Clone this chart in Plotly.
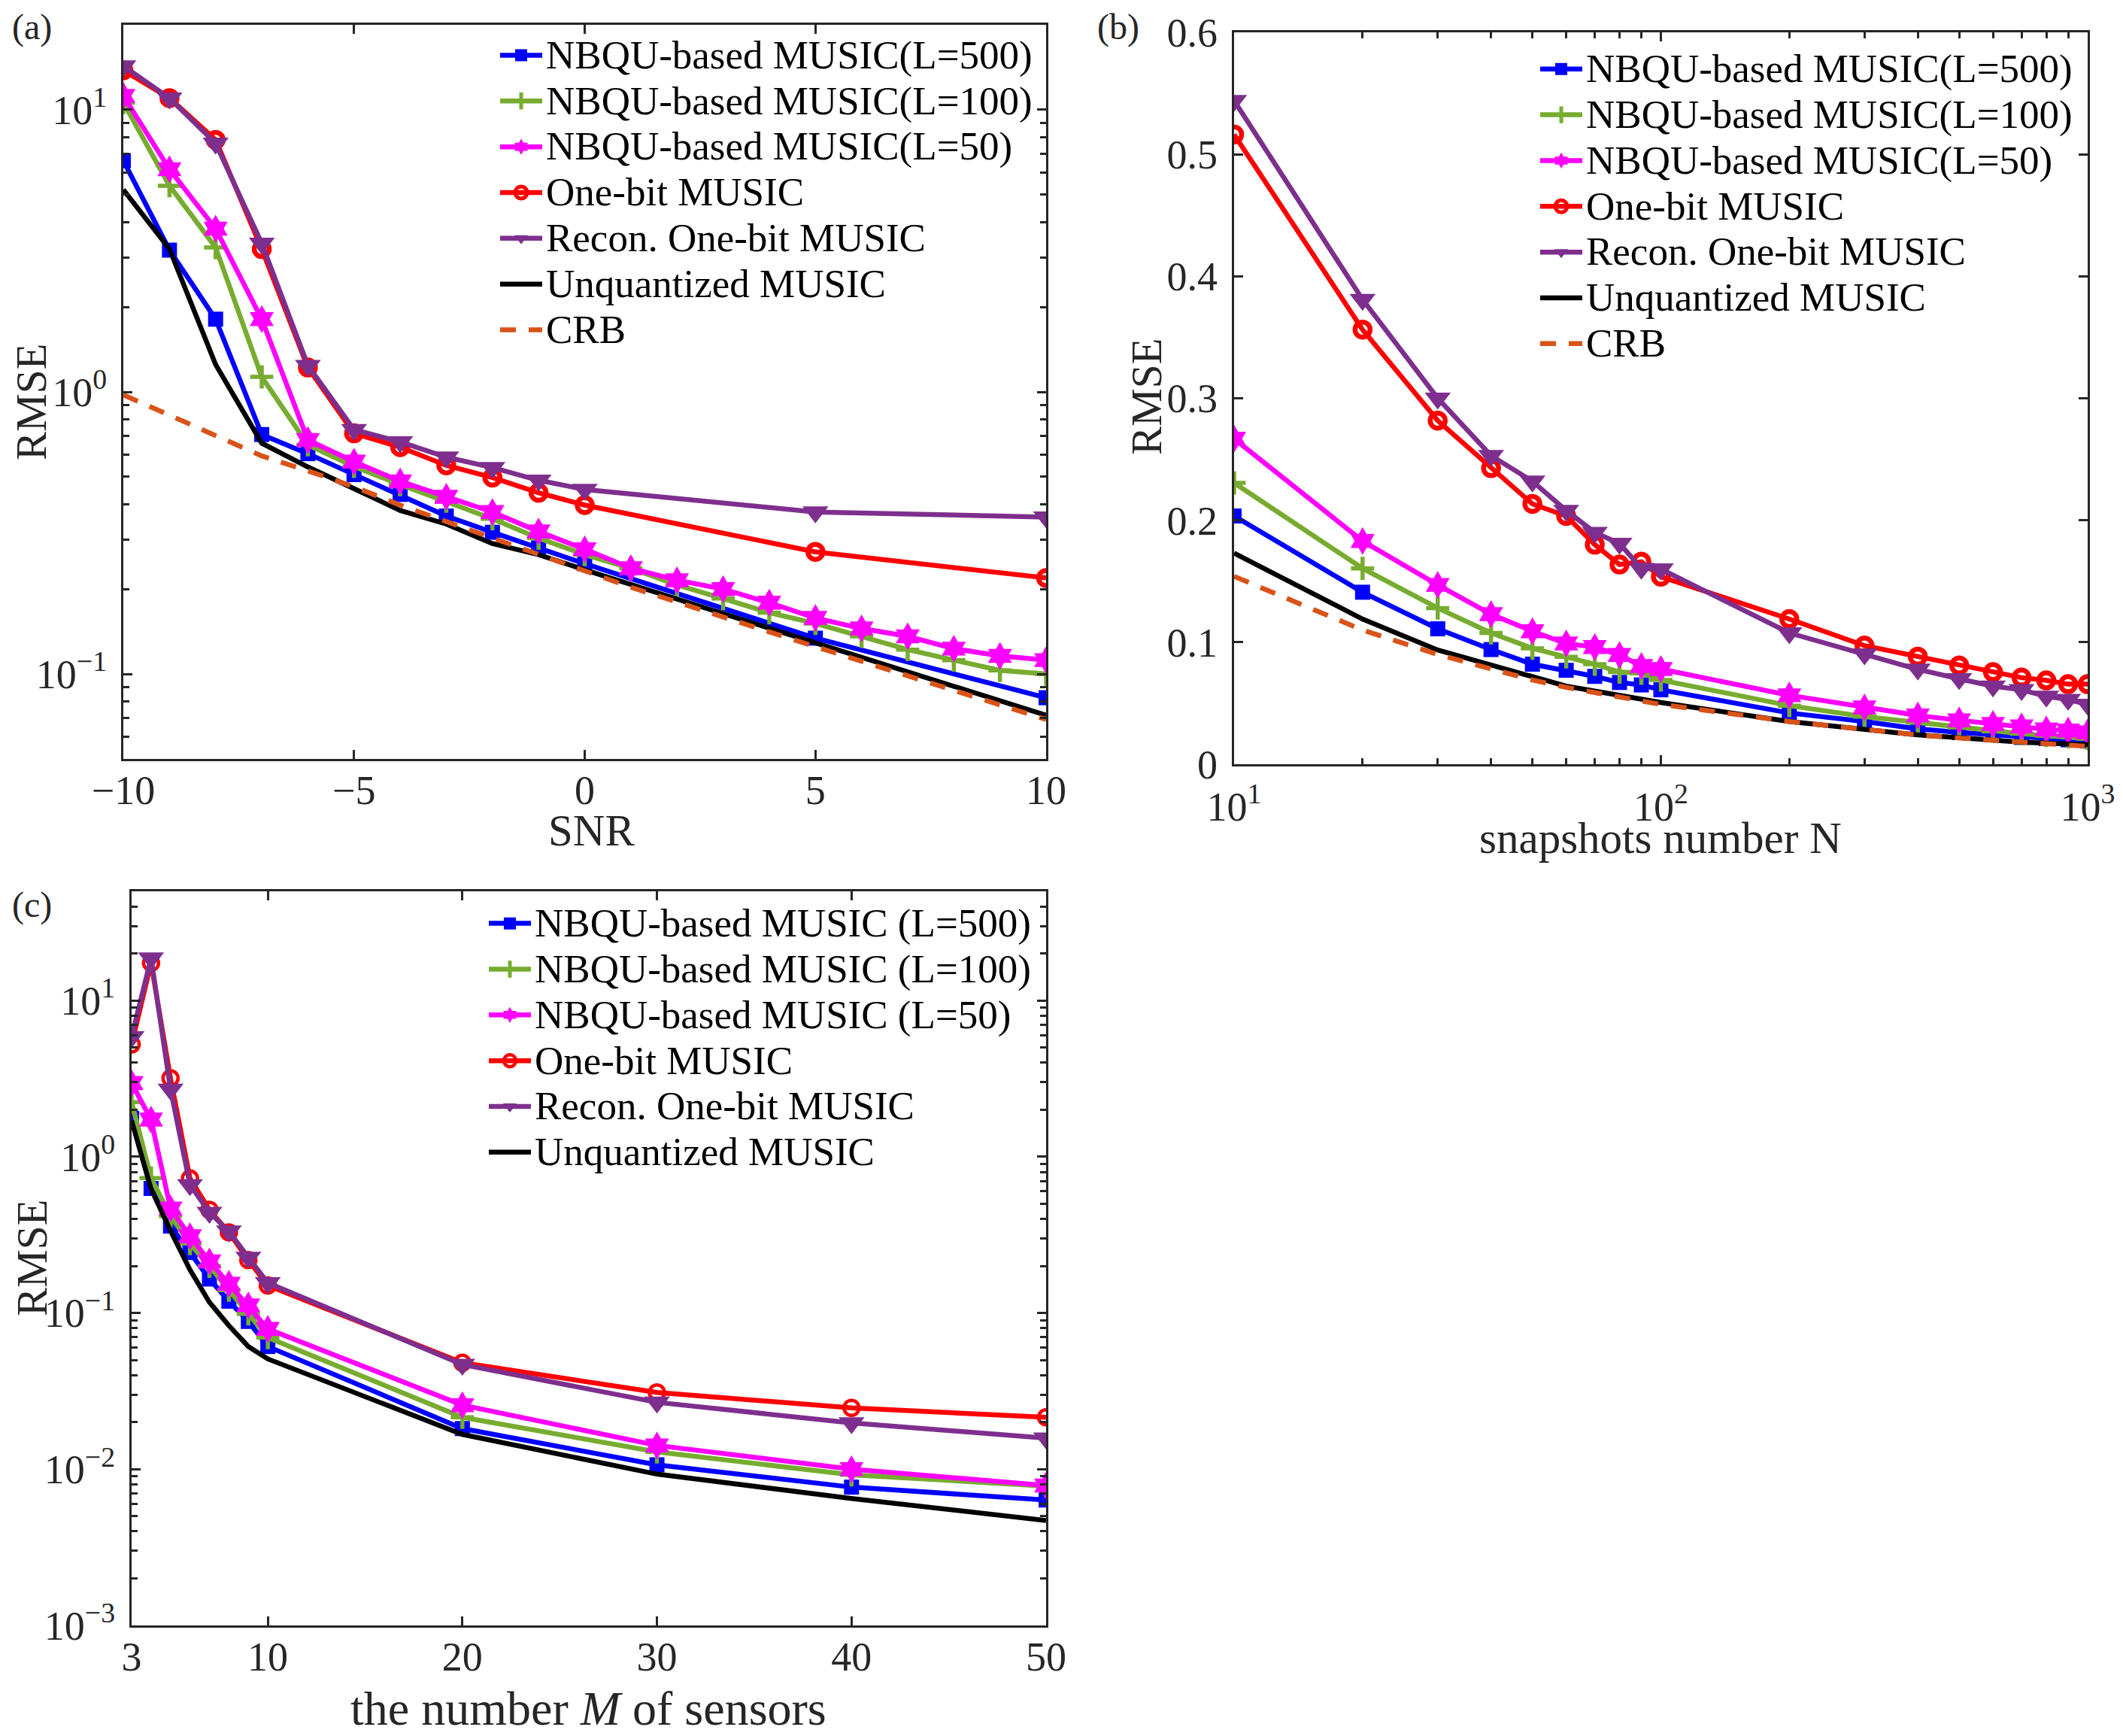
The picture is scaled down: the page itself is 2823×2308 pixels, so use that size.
import numpy as np
import plotly.graph_objects as go

W, H = 2823, 2308
FONT = "Liberation Serif, Times New Roman, serif"
AXC = "#262626"

# ---------------- data: panel (a) RMSE vs SNR ----------------
snr_coarse = [-10, -9, -8, -7, -6, -5, -4, -3, -2, -1, 0, 5, 10]
snr_fine = [-10, -9, -8, -7, -6, -5, -4, -3, -2, -1, 0, 1, 2, 3, 4, 5, 6, 7, 8, 9, 10]
a_L500 = [6.6, 3.18, 1.81, 0.706, 0.604, 0.509, 0.433, 0.363, 0.318, 0.28, 0.246, 0.134, 0.0824]
a_L100 = [10.6, 5.38, 3.25, 1.13, 0.649, 0.544, 0.469, 0.41, 0.355, 0.303, 0.265,
          0.237, 0.207, 0.185, 0.165, 0.151, 0.136, 0.122, 0.112, 0.103, 0.1]
a_L50 = [11.2, 6.15, 3.79, 1.81, 0.675, 0.566, 0.482, 0.425, 0.375, 0.32, 0.277,
         0.237, 0.215, 0.2, 0.179, 0.158, 0.145, 0.136, 0.123, 0.116, 0.112]
a_onebit = [13.8, 11.0, 7.82, 3.21, 1.22, 0.713, 0.637, 0.549, 0.497, 0.439, 0.397, 0.271, 0.219]
a_recon = [14.3, 11.0, 7.6, 3.36, 1.24, 0.735, 0.665, 0.587, 0.539, 0.486, 0.451, 0.375, 0.36]
a_unq = [5.21, 3.21, 1.25, 0.658, 0.542, 0.455, 0.38, 0.34, 0.29, 0.265, 0.234, 0.129, 0.0714]
a_crb = [0.976, 0.826, 0.697, 0.593, 0.525, 0.461, 0.397, 0.347, 0.301, 0.263, 0.231,
         0.203, 0.180, 0.160, 0.141, 0.125, 0.111, 0.098, 0.087, 0.077, 0.069]

# ---------------- data: panel (b) RMSE vs snapshots N ----------------
snap_N = [10, 20, 30, 40, 50, 60, 70, 80, 90, 100, 200, 300, 400, 500, 600, 700, 800, 900, 1000]
b_L500 = [0.2035, 0.141, 0.111, 0.094, 0.082, 0.077, 0.072, 0.067, 0.065, 0.061,
          0.042, 0.035, 0.029, 0.026, 0.024, 0.022, 0.021, 0.020, 0.019]
b_L100 = [0.2306, 0.1605, 0.128, 0.1076, 0.095, 0.088, 0.082, 0.0755, 0.0746, 0.069,
          0.048, 0.039, 0.034, 0.030, 0.027, 0.025, 0.0235, 0.0226, 0.021]
b_L50 = [0.2668, 0.183, 0.147, 0.123, 0.109, 0.099, 0.096, 0.0895, 0.0805, 0.078,
         0.0565, 0.0466, 0.040, 0.036, 0.033, 0.031, 0.0285, 0.0276, 0.026]
b_onebit = [0.5163, 0.3563, 0.2817, 0.2428, 0.2134, 0.2035, 0.18, 0.1637, 0.166, 0.1537,
            0.119, 0.0972, 0.0882, 0.081, 0.0755, 0.071, 0.0687, 0.0656, 0.0656]
b_recon = [0.544, 0.381, 0.300, 0.253, 0.232, 0.208, 0.19, 0.181, 0.1605, 0.16,
           0.1076, 0.0904, 0.0778, 0.070, 0.064, 0.061, 0.0556, 0.053, 0.049]
b_unq = [0.173, 0.119, 0.0936, 0.081, 0.071, 0.064, 0.060, 0.0565, 0.0534, 0.0506,
         0.035, 0.028, 0.024, 0.0217, 0.0195, 0.018, 0.0172, 0.0165, 0.016]
b_crb = [0.154, 0.110, 0.090, 0.078, 0.069, 0.063, 0.059, 0.055, 0.052, 0.049,
         0.035, 0.028, 0.024, 0.0215, 0.0195, 0.018, 0.0168, 0.0156, 0.0146]

# ---------------- data: panel (c) RMSE vs number of sensors M ----------------
sens_M = [3, 4, 5, 6, 7, 8, 9, 10, 20, 30, 40, 50]
c_L500 = [1.76, 0.627, 0.36, 0.244, 0.165, 0.119, 0.0883, 0.061, 0.0182, 0.01067, 0.00768, 0.00635]
c_L100 = [2.24, 0.731, 0.417, 0.278, 0.199, 0.140, 0.0987, 0.0696, 0.0215, 0.0129, 0.0092, 0.0078]
c_L50 = [2.96, 1.73, 0.466, 0.31, 0.214, 0.154, 0.112, 0.079, 0.0257, 0.0142, 0.0100, 0.00787]
c_onebit = [5.24, 17.4, 3.18, 0.726, 0.457, 0.328, 0.218, 0.150, 0.048, 0.031, 0.0247, 0.0215]
c_recon = [5.86, 18.7, 2.70, 0.661, 0.44, 0.334, 0.227, 0.156, 0.0468, 0.0268, 0.0198, 0.0158]
c_unq = [1.70, 0.622, 0.336, 0.189, 0.117, 0.083, 0.061, 0.0508, 0.0167, 0.0093, 0.0065, 0.00469]

# legend labels
names_ab = ["NBQU-based MUSIC(L=500)", "NBQU-based MUSIC(L=100)", "NBQU-based MUSIC(L=50)",
            "One-bit MUSIC", "Recon. One-bit MUSIC", "Unquantized MUSIC", "CRB"]
names_c = ["NBQU-based MUSIC (L=500)", "NBQU-based MUSIC (L=100)", "NBQU-based MUSIC (L=50)",
           "One-bit MUSIC", "Recon. One-bit MUSIC", "Unquantized MUSIC"]

BLUE, GREEN, MAGENTA, RED, PURPLE, BLACK, ORANGE = (
    "#0000FF", "#77AC30", "#FF00FF", "#FF0000", "#7E2F8E", "#000000", "#D95319")
LW = 6.5


def lbl(t):
    return '<span style="font-size:53px">' + t + '</span>'


def styles(circle_lw):
    return [
        dict(line=dict(color=BLUE, width=LW), marker=dict(symbol="square", size=20, color=BLUE)),
        dict(line=dict(color=GREEN, width=LW),
             marker=dict(symbol="cross-thin", size=22, color=GREEN, line=dict(color=GREEN, width=5.5))),
        dict(line=dict(color=MAGENTA, width=LW), marker=dict(symbol="hexagram", size=28, color=MAGENTA)),
        dict(line=dict(color=RED, width=LW),
             marker=dict(symbol="circle-open", size=20, color=RED, line=dict(color=RED, width=circle_lw))),
        dict(line=dict(color=PURPLE, width=LW), marker=dict(symbol="triangle-down", size=30, color=PURPLE)),
        dict(line=dict(color=BLACK, width=LW), marker=None),
        dict(line=dict(color=ORANGE, width=LW, dash="21px,17px"), marker=None),
    ]


fig = go.Figure()


def add_panel(xs_list, ys_list, names, xa, ya, leg, circle_lw):
    st = styles(circle_lw)
    for i, (xs, ys, nm) in enumerate(zip(xs_list, ys_list, names)):
        s = st[i]
        kw = dict(x=xs, y=ys, name=lbl(nm), xaxis=xa, yaxis=ya, legend=leg, line=s["line"])
        if s["marker"] is not None:
            kw["mode"] = "lines+markers"
            kw["marker"] = s["marker"]
        else:
            kw["mode"] = "lines"
        fig.add_trace(go.Scatter(**kw))


add_panel([snr_coarse, snr_fine, snr_fine, snr_coarse, snr_coarse, snr_coarse, snr_fine],
          [a_L500, a_L100, a_L50, a_onebit, a_recon, a_unq, a_crb], names_ab, "x", "y", "legend", 6.5)
add_panel([snap_N] * 7, [b_L500, b_L100, b_L50, b_onebit, b_recon, b_unq, b_crb],
          names_ab, "x2", "y2", "legend2", 6.5)
add_panel([sens_M] * 6, [c_L500, c_L100, c_L50, c_onebit, c_recon, c_unq],
          names_c, "x3", "y3", "legend3", 4.5)


def px_x(p):
    return p / W


def px_y(p):
    return 1 - p / H


def minor_log(lo, hi):
    vals = []
    for k in range(int(np.floor(lo)) - 1, int(np.ceil(hi)) + 1):
        for m in range(2, 10):
            v = m * 10.0 ** k
            if lo <= np.log10(v) <= hi:
                vals.append(v)
    return vals


def base_axis(**kw):
    d = dict(showline=True, linecolor=AXC, linewidth=3.3, mirror="ticks", ticks="inside",
             ticklen=12, tickwidth=3, tickcolor=AXC, showgrid=False, zeroline=False,
             automargin=False, tickfont=dict(family=FONT, size=54, color=AXC))
    d.update(kw)
    return d


minor_style = dict(ticks="inside", ticklen=8, tickwidth=3, tickcolor=AXC, showgrid=False)

# panel domains (pixels)
A = dict(l=164, r=1391, t=33, b=1009)
B = dict(l=1641, r=2776, t=43, b=1016)
C = dict(l=175, r=1391, t=1185, b=2161)

ya_lo, ya_hi = np.log10(0.05), np.log10(20)
yc_lo, yc_hi = -3, np.log10(50)

fig.update_layout(
    width=W, height=H, margin=dict(l=0, r=0, t=0, b=0, pad=0, autoexpand=False),
    paper_bgcolor="white", plot_bgcolor="white",
    font=dict(family=FONT, color="black"),
    xaxis=base_axis(domain=[px_x(A["l"]), px_x(A["r"])], anchor="y", range=[-10, 10],
                    tickvals=[-10, -5, 0, 5, 10], ticklabelstandoff=-8),
    yaxis=base_axis(domain=[px_y(A["b"]), px_y(A["t"])], anchor="x", type="log",
                    range=[ya_lo, ya_hi], tickvals=[0.1, 1, 10],
                    ticktext=["10<sup>\u22121</sup>", "10<sup>0</sup>", "10<sup>1</sup>"],
                    ticklabelstandoff=8,
                    minor=dict(tickmode="array", tickvals=minor_log(ya_lo, ya_hi), **minor_style)),
    xaxis2=base_axis(domain=[px_x(B["l"]), px_x(B["r"])], anchor="y2", type="log",
                     range=[1, 3], tickvals=[10, 100, 1000],
                     ticktext=["10<sup>1</sup>", "10<sup>2</sup>", "10<sup>3</sup>"],
                     ticklabelstandoff=7,
                     minor=dict(tickmode="array", tickvals=minor_log(1, 3), **minor_style)),
    yaxis2=base_axis(domain=[px_y(B["b"]), px_y(B["t"])], anchor="x2", range=[0, 0.6],
                     tickvals=[0, 0.1, 0.2, 0.3, 0.4, 0.5, 0.6], ticklabelstandoff=8),
    xaxis3=base_axis(domain=[px_x(C["l"]), px_x(C["r"])], anchor="y3", range=[3, 50],
                     tickvals=[3, 10, 20, 30, 40, 50], ticklabelstandoff=-8),
    yaxis3=base_axis(domain=[px_y(C["b"]), px_y(C["t"])], anchor="x3", type="log",
                     range=[yc_lo, yc_hi], tickvals=[0.001, 0.01, 0.1, 1, 10],
                     ticktext=["10<sup>\u22123</sup>", "10<sup>\u22122</sup>", "10<sup>\u22121</sup>",
                               "10<sup>0</sup>", "10<sup>1</sup>"],
                     ticklabelstandoff=8,
                     minor=dict(tickmode="array", tickvals=minor_log(yc_lo, yc_hi), **minor_style)),
)

leg_common = dict(xanchor="left", yanchor="top", bgcolor="rgba(0,0,0,0)", borderwidth=0,
                  font=dict(family=FONT, size=44.5, color="black"), itemwidth=56,
                  tracegroupgap=0, itemsizing="trace")
fig.update_layout(
    legend=dict(x=px_x(660), y=px_y(38), **leg_common),
    legend2=dict(x=px_x(2043), y=px_y(56.3), **leg_common),
    legend3=dict(x=px_x(645), y=px_y(1192.2), **leg_common),
)


def ann(text, x, y, size=56, angle=0, xanchor="center"):
    fig.add_annotation(text=text, x=px_x(x), y=px_y(y), xref="paper", yref="paper",
                       showarrow=False, textangle=angle, xanchor=xanchor, yanchor="middle",
                       font=dict(family=FONT, size=size, color=AXC))


ann("(a)", 14, 36, size=48, xanchor="left")
ann("(b)", 1457, 36, size=48, xanchor="left")
ann("(c)", 14, 1203, size=48, xanchor="left")
ann("SNR", 786, 1104, size=59)
ann("RMSE", 42, 535, size=57, angle=-90)
ann("RMSE", 1524, 528, size=57, angle=-90)
ann("snapshots number N", 2208, 1114, size=59)
ann("RMSE", 42, 1673, size=57, angle=-90)
ann("the number <i>M</i> of sensors", 782, 2271, size=64)

fig.write_html("out.html", config={"displayModeBar": False},
               post_script="document.body.style.margin='0px';")
